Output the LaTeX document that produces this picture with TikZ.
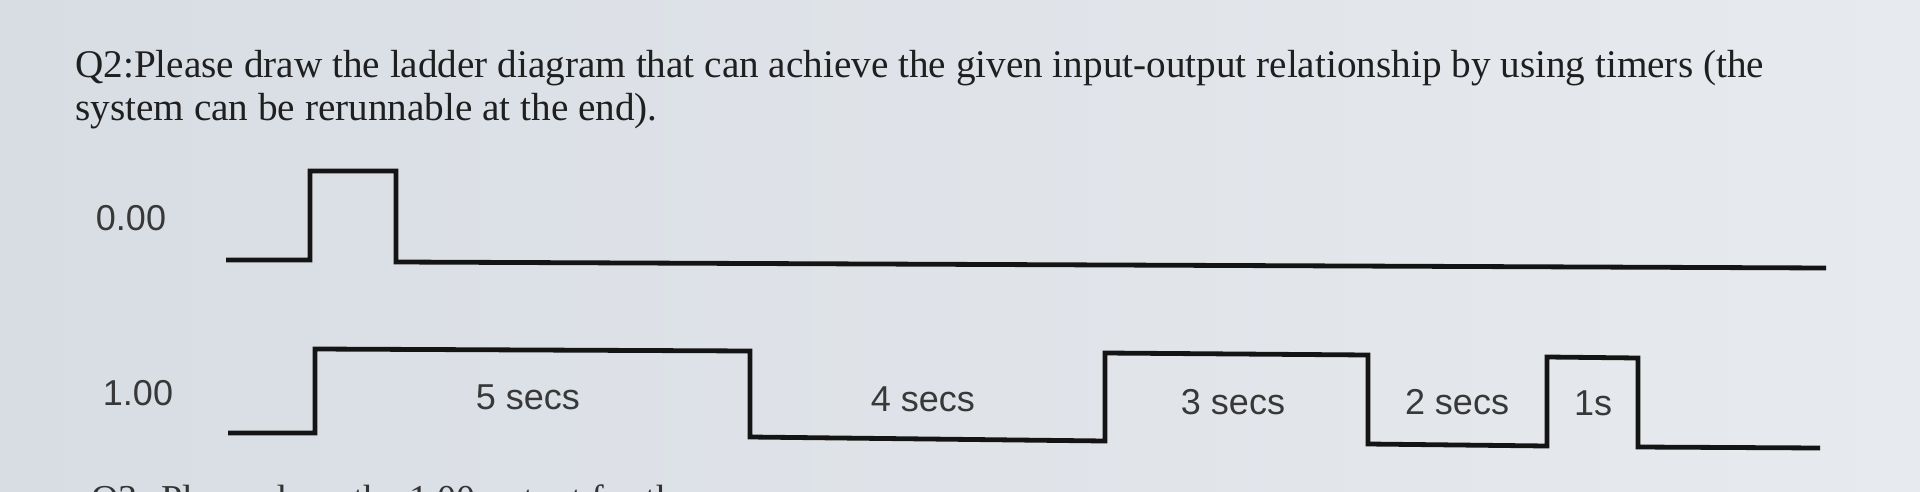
\documentclass[tikz,border=0pt]{standalone}
\usepackage{fontspec}
\setmainfont{Liberation Serif}
\newfontfamily\labelfont{Liberation Sans}
\begin{document}
\begin{tikzpicture}[x=0.5pt,y=-0.5pt,
  wave/.style={draw=black!92,line width=2.4pt,line join=miter,line cap=butt},
  ttl/.style={anchor=base west,inner sep=0pt,text=black!88,font=\fontsize{19.6pt}{20pt}\selectfont},
  lbl/.style={inner sep=0pt,text=black!78,font=\labelfont\fontsize{18pt}{19pt}\selectfont}]
\definecolor{bgl}{RGB}{216,221,228}
\definecolor{bgr}{RGB}{231,234,238}
\useasboundingbox (0,0) rectangle (1920,492);
\clip (0,0) rectangle (1920,492);
\shade[left color=bgl,right color=bgr] (0,0) rectangle (1920,492);
% title
\node[ttl] (t1) at (75,78) {Q2:Please draw the ladder diagram that can achieve the given input-output relationship by using timers (the};
\node[ttl] (t2) at (75,120) {system can be rerunnable at the end).};
% labels
\node[lbl] (l0) at (131,218) {0.00};
\node[lbl] (l1) at (138,393) {1.00};
\node[lbl] (s5) at (528,397) {5 secs};
\node[lbl] (s4) at (923,399) {4 secs};
\node[lbl] (s3) at (1233,402) {3 secs};
\node[lbl] (s2) at (1457,402) {2 secs};
\node[lbl] (s1) at (1593,403) {1s};
% input waveform
\draw[wave] (226,260) -- (310,260) -- (310,171) -- (396,171) -- (396,262) -- (1826,268);
% output waveform
\draw[wave] (228,433) -- (315,433) -- (315,349) -- (750,351) -- (750,437) -- (1105,441)
  -- (1105,353) -- (1368,355) -- (1368,444) -- (1547,446) -- (1547,357) -- (1638,358)
  -- (1638,447) -- (1820,448);
% cut-off next question
\node[ttl,font=\fontsize{19pt}{20pt}\selectfont,text=black!80] (q3) at (91,511) {Q3: Please draw the 1.00 output for the};
\end{tikzpicture}
\end{document}
